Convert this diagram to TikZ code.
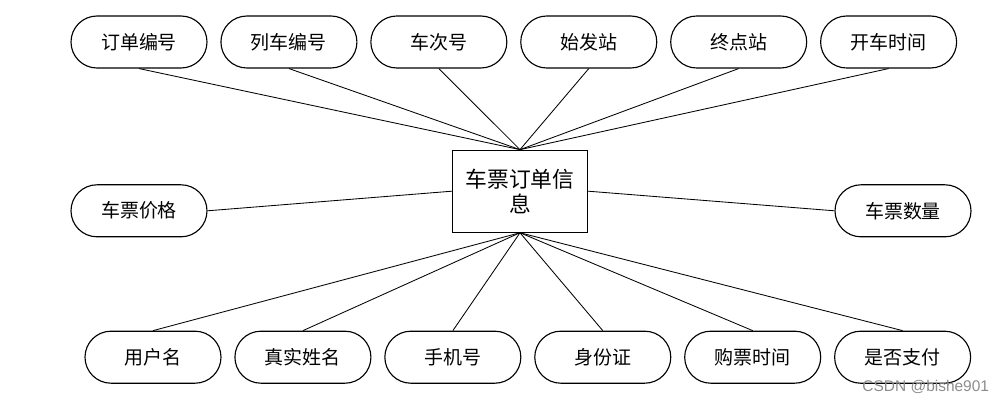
\documentclass[tikz,border=0pt]{standalone}
\usepackage{fontspec}
\setmainfont{Noto Sans CJK SC}
\newfontfamily\wmfont{Liberation Sans}
\usepackage{tikz}
\usetikzlibrary{positioning}

\begin{document}
\begin{tikzpicture}[
    attr/.style={rectangle, draw=black, line width=0.8pt, rounded corners=0.65cm,
        minimum width=3.4cm, minimum height=1.3cm, inner sep=2pt,
        font=\fontsize{13.5}{16}\selectfont},
    entity/.style={rectangle, draw=black, line width=0.8pt,
        minimum width=3.38cm, minimum height=2.05cm, align=center,
        font=\fontsize{15.5}{17.7}\selectfont},
    link/.style={line width=0.6pt, black}
]
    \useasboundingbox (0,0) rectangle (25.2,-10.05);

    % entity
    \node[entity] (order) at (13.0,-4.78) {车票订单信\\息};

    % top row
    \node[attr] (oid) at (3.475,-1.05) {订单编号};
    \node[attr, right=0.32cm of oid] (tid) {列车编号};
    \node[attr, right=0.32cm of tid] (tno) {车次号};
    \node[attr, right=0.32cm of tno] (from) {始发站};
    \node[attr, right=0.32cm of from] (to) {终点站};
    \node[attr, right=0.32cm of to] (dep) {开车时间};

    % middle
    \node[attr] (price) at (3.475,-5.27) {车票价格};
    \node[attr] (num) at (22.575,-5.27) {车票数量};

    % bottom row
    \node[attr] (uname) at (3.825,-8.93) {用户名};
    \node[attr, right=0.32cm of uname] (rname) {真实姓名};
    \node[attr, right=0.32cm of rname] (phone) {手机号};
    \node[attr, right=0.32cm of phone] (idno) {身份证};
    \node[attr, right=0.32cm of idno] (btime) {购票时间};
    \node[attr, right=0.32cm of btime] (paid) {是否支付};

    \foreach \n in {oid,tid,tno,from,to,dep}
        \draw[link] (\n.south) -- (order.north);
    \foreach \n in {uname,rname,phone,idno,btime,paid}
        \draw[link] (\n.north) -- (order.south);
    \draw[link] (price.east) -- (order.west);
    \draw[link] (num.west) -- (order.east);

    \node[font=\wmfont\fontsize{11}{12}\selectfont, text=black!45, anchor=east] (wm) at (24.85,-9.67) {CSDN @bishe901};
\end{tikzpicture}
\end{document}
